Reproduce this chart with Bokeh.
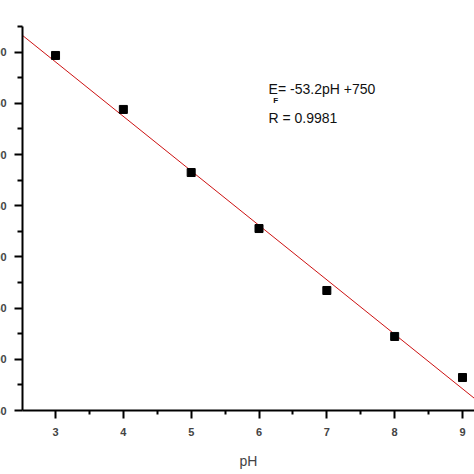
from bokeh.plotting import figure
from bokeh.models import Label, Range1d, FixedTicker
from bokeh.embed import file_html
from bokeh.resources import INLINE

# Data
ph = [3, 4, 5, 6, 7, 8, 9]
ef = [596.7, 544.0, 482.4, 427.7, 367.2, 322.3, 282.2]
fit_slope = -53.2
fit_intercept = 750.0
x_ticks = [3, 4, 5, 6, 7, 8, 9]
x_minor = [2.5, 3.5, 4.5, 5.5, 6.5, 7.5, 8.5]
y_ticks = [250, 300, 350, 400, 450, 500, 550, 600]
y_minor = [275, 325, 375, 425, 475, 525, 575, 625]
x_lo, x_hi = 2.513, 9.177
y_lo, y_hi = 250, 625

p = figure(width=492, height=474, output_backend="svg", toolbar_location=None,
           x_range=Range1d(x_lo, x_hi), y_range=Range1d(y_lo, y_hi),
           min_border_left=40, min_border_right=0, min_border_top=26,
           min_border_bottom=64)
# the reference cuts the y tick labels off at the left edge
p.styles = {"margin-left": "-18px"}
p.outline_line_color = None
p.grid.visible = False
p.background_fill_color = "white"
p.border_fill_color = "white"

# fit line
fit_x = [x_lo, x_hi]
fit_y = [fit_slope * v + fit_intercept for v in fit_x]
p.line(fit_x, fit_y, line_color="#cc1111", line_width=1)

# points
p.scatter(ph, ef, marker="square", size=8, fill_color="black", line_color="black")

# x axis
xa = p.xaxis[0]
xa.ticker = FixedTicker(ticks=x_ticks, minor_ticks=x_minor)
xa.axis_line_width = 2
xa.axis_line_color = "black"
xa.major_tick_line_width = 2
xa.major_tick_in = 0
xa.major_tick_out = 8
xa.minor_tick_line_width = 2
xa.minor_tick_in = 0
xa.minor_tick_out = 4
xa.major_label_text_font = "Liberation Sans"
xa.major_label_text_font_style = "bold"
xa.major_label_text_font_size = "11px"
xa.major_label_standoff = 9
xa.axis_label = "pH"
xa.axis_label_text_font = "Liberation Sans"
xa.axis_label_text_font_style = "normal"
xa.axis_label_text_font_size = "14px"
xa.axis_label_standoff = 14

# y axis
ya = p.yaxis[0]
ya.ticker = FixedTicker(ticks=y_ticks, minor_ticks=y_minor)
ya.axis_line_width = 2
ya.axis_line_color = "black"
ya.major_tick_line_width = 2
ya.major_tick_in = 0
ya.major_tick_out = 8
ya.minor_tick_line_width = 2
ya.minor_tick_in = 0
ya.minor_tick_out = 5
ya.major_label_text_font = "Liberation Sans"
ya.major_label_text_font_style = "bold"
ya.major_label_text_font_size = "11px"
ya.major_label_standoff = 8

# equation annotation
tx = 6.14
p.add_layout(Label(x=tx, y=556.6, text="E", text_font="Liberation Sans",
                   text_font_size="14px", text_color="#111111"))
p.add_layout(Label(x=tx + 0.07, y=548.5, text="F", text_font="Liberation Sans",
                   text_font_size="8px", text_font_style="bold", text_color="#111111"))
p.add_layout(Label(x=tx + 0.14, y=556.6, text="= -53.2pH  +750", text_font="Liberation Sans",
                   text_font_size="14px", text_color="#111111"))
p.add_layout(Label(x=tx, y=528.0, text="R = 0.9981", text_font="Liberation Sans",
                   text_font_size="14px", text_color="#111111"))

open("out.html", "w").write(file_html(p, INLINE))
